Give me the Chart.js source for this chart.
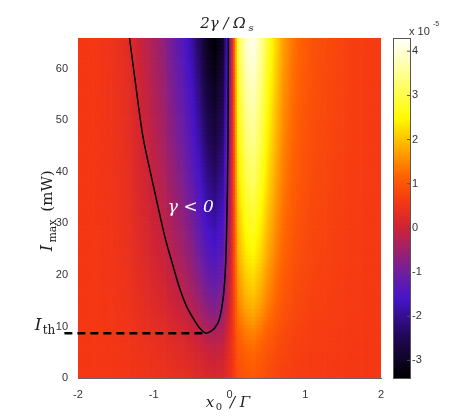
<!DOCTYPE html>
<html><head><meta charset="utf-8">
<script src="https://cdn.jsdelivr.net/npm/chart.js@4/dist/chart.umd.min.js"></script>
<style>html,body{margin:0;background:#fff}#c{width:474px;height:416px}</style>
</head><body><div id="c"><canvas id="cv"></canvas></div>
<script>
// columns (x0/Γ) and the γ profile at the top row (I = 66 mW), units 1e-5
const xCols = [-2,-1.9,-1.8,-1.7,-1.6,-1.5,-1.4,-1.3,-1.2,-1.1,-1,-0.9,-0.8,-0.7,-0.6,-0.5,-0.4,-0.3,-0.2,-0.1,0,0.1,0.2,0.3,0.4,0.5,0.6,0.7,0.8,0.9,1,1.1,1.2,1.3,1.4,1.5,1.6,1.7,1.8,1.9,2];
const topProfile = [0.6,0.6,0.6,0.55,0.5,0.45,0.35,0.2,0,-0.2,-0.4,-0.6,-0.9,-1.2,-1.5,-1.9,-2.5,-3.1,-3.4,-2.9,-0.6,2.9,3.9,4.2,3.6,2.8,2.2,1.7,1.4,1.2,1.05,0.95,0.9,0.85,0.8,0.75,0.7,0.7,0.65,0.65,0.6];
// rows (I_max, mW) and how strongly the profile shows at each row
const iRows = [0,3,6,9,12,15,18,21,24,27,30,33,36,39,42,45,48,51,54,57,60,63,66];
const rowAmp = [0.12,0.15,0.19,0.25,0.32,0.38,0.43,0.48,0.53,0.57,0.61,0.65,0.69,0.73,0.76,0.8,0.83,0.86,0.89,0.92,0.95,0.98,1];
const background = 0.6;
// γ = 0 contour
const contourX = [-1.32,-1.23,-1.14,-1.0,-0.85,-0.75,-0.66,-0.57,-0.48,-0.4,-0.31,-0.2,-0.13,-0.07,-0.04,-0.02,-0.015];
const contourI = [66,56,46.6,37,27.2,22,17.5,14,11.6,9.8,8.7,9.6,11.6,17.5,27,46,66];
const thresholdI = 8.7;
const cbMin = -3.4, cbMax = 4.3, cbTicks = [-3,-2,-1,0,1,2,3,4];

const stops = [[-3.4,[0,0,0]],[-2.4,[35,8,90]],[-1.6,[70,20,200]],[-1,[110,30,160]],[0,[205,35,55]],[0.6,[245,55,20]],[1.2,[255,100,0]],[1.8,[255,170,0]],[2.5,[255,250,0]],[3.4,[255,255,130]],[4.3,[255,255,255]]];
function col(v){
  if(v<=stops[0][0]) return 'rgb(0,0,0)';
  for(let i=1;i<stops.length;i++){
    if(v<=stops[i][0]){
      const [a,ca]=stops[i-1],[b,cb]=stops[i],t=(v-a)/(b-a);
      return 'rgb('+ca.map((c,k)=>Math.round(c+t*(cb[k]-c))).join(',')+')';
    }
  }
  return 'rgb(255,255,255)';
}
const cell=(r,c)=>background+rowAmp[r]*(topProfile[c]-background);

const SUB=4;
const heat = {
  id:'heat',
  beforeDatasetsDraw(chart){
    const {ctx,scales:{x,y},chartArea:a}=chart;
    ctx.save();
    ctx.beginPath();ctx.rect(a.left,a.top,a.right-a.left,a.bottom-a.top);ctx.clip();
    for(let r=0;r<iRows.length-1;r++){
      for(let sr=0;sr<SUB;sr++){
        const tr=sr/SUB, iv=iRows[r]+tr*(iRows[r+1]-iRows[r]), di=(iRows[r+1]-iRows[r])/SUB;
        const y0=y.getPixelForValue(iv), y1=y.getPixelForValue(iv+di);
        for(let c=0;c<xCols.length-1;c++){
          for(let sc=0;sc<SUB;sc++){
            const tc=sc/SUB, xv=xCols[c]+tc*(xCols[c+1]-xCols[c]), dx=(xCols[c+1]-xCols[c])/SUB;
            const x0=x.getPixelForValue(xv), x1=x.getPixelForValue(xv+dx);
            const v=(1-tr)*((1-tc)*cell(r,c)+tc*cell(r,c+1))+tr*((1-tc)*cell(r+1,c)+tc*cell(r+1,c+1));
            ctx.fillStyle=col(v);
            ctx.fillRect(x0,y1,x1-x0+0.7,y0-y1+0.7);
          }
        }
      }
    }
    ctx.restore();
  },
  afterDraw(chart){
    const {ctx,scales:{x,y},chartArea:a}=chart;
    ctx.save();
    // colorbar
    const L=393,R=410,T=a.top,B=a.bottom;
    for(let p=T;p<B;p++){
      const v=cbMax-(p-T)/(B-T)*(cbMax-cbMin);
      ctx.fillStyle=col(v);ctx.fillRect(L,p,R-L,1.2);
    }
    ctx.strokeStyle='#555';ctx.lineWidth=1;ctx.strokeRect(L+0.5,T+0.5,R-L,B-T);
    ctx.fillStyle='#333';ctx.font='11px "Liberation Sans"';ctx.textBaseline='middle';
    cbTicks.forEach(t=>{
      const p=T+(cbMax-t)/(cbMax-cbMin)*(B-T);
      ctx.beginPath();ctx.moveTo(R-3,p);ctx.lineTo(R,p);ctx.stroke();
      ctx.fillText(String(t),R+2,p);
    });
    ctx.fillText('x 10',409,32);ctx.font='7px "Liberation Sans"';ctx.fillText('-5',433,24);
    // texts
    ctx.textAlign='center';ctx.fillStyle='#222';
    ctx.font='italic 15px "DejaVu Serif"';
    ctx.fillText('2γ / Ω',223,24);ctx.font='italic 10px "DejaVu Serif"';ctx.fillText('s',251,28);
    ctx.font='italic 15px "DejaVu Serif"';ctx.fillText('x',210,403);
    ctx.font='10px "DejaVu Serif"';ctx.fillText('0',219,407);
    ctx.font='italic 15px "DejaVu Serif"';ctx.fillText('/ Γ',240,403);
    ctx.save();ctx.translate(48,208);ctx.rotate(-Math.PI/2);
    ctx.font='italic 16px "DejaVu Serif"';ctx.fillText('I',-40,0);
    ctx.font='11px "DejaVu Serif"';ctx.fillText('max',-23,5);
    ctx.font='15px "DejaVu Serif"';ctx.fillText('(mW)',17,0);
    ctx.restore();
    ctx.font='italic 17px "DejaVu Serif"';ctx.fillText('I',38,326);
    ctx.font='12px "DejaVu Serif"';ctx.fillText('th',49,331);
    ctx.fillStyle='#fff';ctx.font='italic 17px "DejaVu Serif"';
    ctx.fillText('γ < 0',x.getPixelForValue(-0.51),y.getPixelForValue(33));
    ctx.restore();
  }
};

new Chart(document.getElementById('cv'),{
  type:'scatter',
  data:{datasets:[
    {data:contourX.map((v,i)=>({x:v,y:contourI[i]})),showLine:true,borderColor:'#000',borderWidth:1.5,pointRadius:0,tension:0.25,clip:false},
    {data:[{x:-2.18,y:thresholdI},{x:contourX[10],y:thresholdI}],showLine:true,borderColor:'#000',borderWidth:2.5,borderDash:[8,5],pointRadius:0,clip:false}
  ]},
  options:{
    responsive:true,maintainAspectRatio:false,animation:false,
    layout:{padding:{top:38,right:93,left:0,bottom:0}},
    plugins:{legend:{display:false},tooltip:{enabled:false}},
    scales:{
      x:{type:'linear',min:-2,max:2,afterFit(s){s.height=38;},
        ticks:{stepSize:1,color:'#333',font:{family:'Liberation Sans',size:11},padding:2},
        grid:{display:false},border:{color:'#666'}},
      y:{type:'linear',min:0,max:66,afterFit(s){s.width=78;},
        afterBuildTicks(s){s.ticks=s.ticks.filter(t=>t.value%10===0);},
        ticks:{stepSize:10,color:'#333',font:{family:'Liberation Sans',size:11},padding:2},
        grid:{display:false},border:{color:'#666'}}
    }
  },
  plugins:[heat]
});
</script></body></html>
